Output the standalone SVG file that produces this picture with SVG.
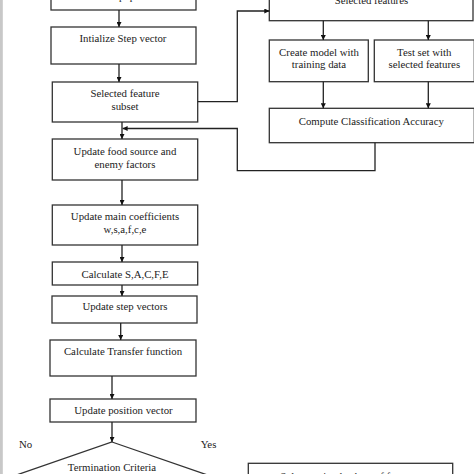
<svg xmlns="http://www.w3.org/2000/svg" width="474" height="474" viewBox="0 0 474 474">
<style>
.box{fill:#fff;stroke:#333;stroke-width:1.3}
.t{font-family:"Liberation Serif","Times New Roman",serif;font-size:10.8px;fill:#222;text-anchor:middle}
.c{fill:none;stroke:#222;stroke-width:1.3}
</style>
<defs>
<marker id="ah" viewBox="0 0 10 10" refX="10" refY="5" markerWidth="5" markerHeight="5" markerUnits="userSpaceOnUse" orient="auto">
<path d="M0,0 L10,5 L0,10 Z" fill="#111"/>
</marker>
</defs>
<rect x="0" y="0" width="474" height="474" fill="#fff"/>
<rect x="0" y="0" width="2.8" height="474" fill="#c8c8c8"/>

<g id="n1"><rect class="box" x="51" y="-20" width="145" height="30"/><text class="t" x="123" y="-0.5">Intialize population</text></g>
<g id="n2"><rect class="box" x="51" y="27" width="145" height="37"/><text class="t" x="123" y="41.5">Intialize Step vector</text></g>
<g id="n3"><rect class="box" x="52.3" y="82" width="145.4" height="40"/><text class="t" x="125" y="97">Selected feature</text><text class="t" x="125" y="110">subset</text></g>
<g id="n4"><rect class="box" x="52.3" y="139" width="145.4" height="41"/><text class="t" x="125" y="155">Update food source and</text><text class="t" x="125" y="167.5">enemy factors</text></g>
<g id="n5"><rect class="box" x="52.3" y="205" width="145.4" height="40"/><text class="t" x="125" y="219.5">Update main coefficients</text><text class="t" x="125" y="233">w,s,a,f,c,e</text></g>
<g id="n6"><rect class="box" x="52.3" y="262" width="145.4" height="23"/><text class="t" x="125" y="277.5">Calculate S,A,C,F,E</text></g>
<g id="n7"><rect class="box" x="52" y="296" width="145" height="27"/><text class="t" x="125" y="310">Update step vectors</text></g>
<g id="n8"><rect class="box" x="50" y="340" width="146" height="36"/><text class="t" x="123" y="355">Calculate Transfer function</text></g>
<g id="n9"><rect class="box" x="50" y="399" width="146" height="23"/><text class="t" x="123.5" y="413.5">Update position vector</text></g>
<g id="n10"><polygon class="box" points="112,442 222,480 112,518 2,480"/><text class="t" x="112" y="471">Termination Criteria</text></g>
<g id="n11"><rect class="box" x="269.3" y="-20" width="203.7" height="40.7"/><text class="t" x="371.5" y="3.5">Selected features</text></g>
<g id="n12"><rect class="box" x="269.3" y="40" width="99" height="41.7"/><text class="t" x="319" y="55.5">Create model with</text><text class="t" x="319" y="67.5">training data</text></g>
<g id="n13"><rect class="box" x="374.3" y="40" width="100" height="41.7"/><text class="t" x="424.3" y="55.5">Test set with</text><text class="t" x="424.3" y="67.5">selected features</text></g>
<g id="n14"><rect class="box" x="269.3" y="108.3" width="205" height="34.4"/><text class="t" x="371.3" y="124.5">Compute Classification Accuracy</text></g>
<g id="n15"><rect class="box" x="248.3" y="463.3" width="204.4" height="30"/><text class="t" x="350.5" y="480">Select optimal subset of features</text></g>
<g id="labels"><text class="t" x="25.5" y="447.5">No</text><text class="t" x="208.5" y="447.5">Yes</text></g>

<g id="connectors">
<line class="c" x1="119" y1="10" x2="119" y2="27" marker-end="url(#ah)"/>
<line class="c" x1="119" y1="64" x2="119" y2="82" marker-end="url(#ah)"/>
<line class="c" x1="122" y1="122" x2="122" y2="139" marker-end="url(#ah)"/>
<line class="c" x1="122" y1="180" x2="122" y2="205" marker-end="url(#ah)"/>
<line class="c" x1="122" y1="245" x2="122" y2="262" marker-end="url(#ah)"/>
<line class="c" x1="122" y1="285" x2="122" y2="296" marker-end="url(#ah)"/>
<line class="c" x1="120.7" y1="323" x2="120.7" y2="340" marker-end="url(#ah)"/>
<line class="c" x1="112" y1="376" x2="112" y2="399" marker-end="url(#ah)"/>
<line class="c" x1="112" y1="422" x2="112" y2="442" marker-end="url(#ah)"/>
<polyline class="c" points="197.7,101.7 237.3,101.7 237.3,11 269.3,11" marker-end="url(#ah)"/>
<line class="c" x1="323.3" y1="20.7" x2="323.3" y2="40" marker-end="url(#ah)"/>
<line class="c" x1="428.3" y1="20.7" x2="428.3" y2="40" marker-end="url(#ah)"/>
<line class="c" x1="323.3" y1="81.7" x2="323.3" y2="108.3" marker-end="url(#ah)"/>
<line class="c" x1="428.3" y1="81.7" x2="428.3" y2="108.3" marker-end="url(#ah)"/>
<polyline class="c" points="375,142.7 375,170.7 237.3,170.7 237.3,128.5 122.6,128.5" marker-end="url(#ah)"/>
</g>
</svg>
